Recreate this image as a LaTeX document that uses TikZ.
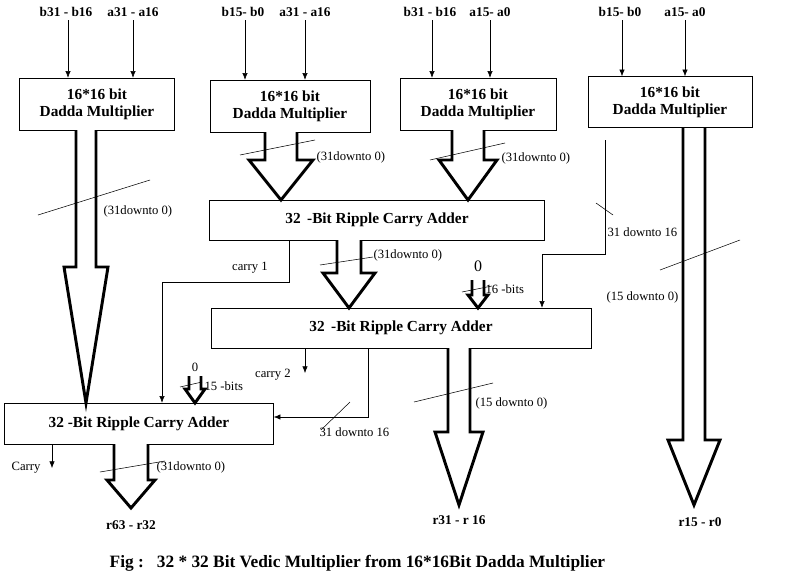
\documentclass[tikz,border=0pt]{standalone}
\usepackage{fontspec}
\setmainfont{Liberation Serif}
\usetikzlibrary{arrows.meta}
\tikzset{
  box/.style={rectangle, draw, thin, inner sep=0pt, font=\bfseries\fontsize{11.5}{13}\selectfont, align=center},
  lbl/.style={font=\fontsize{9.5}{11}\selectfont, inner sep=1pt},
  bus/.style={draw, line width=2.2pt, fill=white, line join=miter},
  wire/.style={thin, -{Latex[length=5pt,width=4pt]}},
  slash/.style={thin}
}
% hollow block arrow: x, top, head start, tip, shaft half, head half
\newcommand{\busarrow}[6]{%
  \draw[bus] (#1-#5,#2) -- (#1-#5,#3) -- (#1-#6,#3) -- (#1,#4) -- (#1+#6,#3) -- (#1+#5,#3) -- (#1+#5,#2);}
\begin{document}
\begin{tikzpicture}[x=0.75pt,y=-0.75pt]
  \useasboundingbox (0,0) rectangle (795,586);

  % multipliers
  \node[box, minimum width=155*0.75pt, minimum height=52*0.75pt] (m1) at (97,104)  {16*16 bit\\Dadda Multiplier};
  \node[box, minimum width=160*0.75pt, minimum height=52*0.75pt] (m2) at (290,106) {16*16 bit\\Dadda Multiplier};
  \node[box, minimum width=156*0.75pt, minimum height=52*0.75pt] (m3) at (478,104) {16*16 bit\\Dadda Multiplier};
  \node[box, minimum width=164*0.75pt, minimum height=51*0.75pt] (m4) at (670,102) {16*16 bit\\Dadda Multiplier};

  % adders
  \node[box, minimum width=335*0.75pt, minimum height=40*0.75pt] (add1) at (377,220) {32 \,-Bit Ripple Carry Adder};
  \node[box, minimum width=380*0.75pt, minimum height=40*0.75pt] (add2) at (401,328) {32 \,-Bit Ripple Carry Adder};
  \node[box, minimum width=269*0.75pt, minimum height=41*0.75pt] (add3) at (139,423.5) {32 -Bit Ripple Carry Adder};

  % inputs
  \foreach \m/\xa/\xb/\la/\lb in {m1/68/133/b31 - b16/a31 - a16, m2/245/305/b15- b0/a31 - a16,
                                  m3/432/490/b31 - b16/a15- a0, m4/622/685/b15- b0/a15- a0}{
    \node[lbl, font=\bfseries\fontsize{10}{11}\selectfont] (in\m a) at (\xa-2,12) {\la};
    \node[lbl, font=\bfseries\fontsize{10}{11}\selectfont] (in\m b) at (\xb,12) {\lb};
    \draw[wire] (\xa,20) -- (\m.north -| {(\xa,0)});
    \draw[wire] (\xb,20) -- (\m.north -| {(\xb,0)});
  }

  % wide buses
  \busarrow{86}{130}{267}{403}{10}{22}
  \busarrow{281}{132}{160}{200}{16}{32}
  \busarrow{468}{130}{160}{200}{16}{29}
  \busarrow{349}{240}{273}{308}{12}{26}
  \busarrow{459}{348}{432}{505}{11}{24}
  \busarrow{694}{128}{440}{505}{11}{26}
  \busarrow{131}{444}{480}{508}{17}{24}
  \busarrow{478}{280}{295}{308}{6}{10}
  \busarrow{195}{376}{389}{403}{6}{10}

  % bus widths
  \draw[slash] (38,215) -- (150,180);  \node[lbl, anchor=west] (w1) at (102,211) {(31downto 0)};
  \draw[slash] (240,155) -- (315,140); \node[lbl, anchor=west] (w2) at (315,157) {(31downto 0)};
  \draw[slash] (430,160) -- (505,143); \node[lbl, anchor=west] (w3) at (500,158) {(31downto 0)};
  \draw[slash] (320,265) -- (373,257); \node[lbl, anchor=west] (w4) at (372,255) {(31downto 0)};
  \draw[slash] (414,402) -- (493,383); \node[lbl, anchor=west] (w5) at (474,403) {(15 downto 0)};
  \draw[slash] (660,270) -- (740,240); \node[lbl, anchor=west] (w6) at (605,297) {(15 downto 0)};
  \draw[slash] (100,472) -- (165,461); \node[lbl, anchor=west] (w7) at (155,467) {(31downto 0)};
  \draw[slash] (462,292) -- (492,286); \node[lbl] (z1) at (478,266) {\fontsize{12}{13}\selectfont 0};
  \node[lbl, anchor=west] (b16) at (484,289) {16 -bits};
  \draw[slash] (180,387) -- (202,382); \node[lbl] (z2) at (195,367) {0};
  \node[lbl, anchor=west] (b15) at (203,386) {15 -bits};

  % carries and upper halves
  \coordinate (c1) at (289,282);
  \draw[wire] (add1.south -| c1) -- (c1) -- (162,282) -- (add3.north -| {(162,0)});
  \node[lbl] (lc1) at (250,268) {carry 1};
  \coordinate (h1) at (605,254);
  \draw[wire] (605,140) -- (h1) -- (542,254) -- (add2.north -| {(542,0)});
  \draw[slash] (596,203) -- (613,215);
  \node[lbl, anchor=west] (lh1) at (606,232) {31 downto 16};
  \draw[wire] (add2.south -| {(305,0)}) -- (305,373);
  \node[lbl] (lc2) at (273,375) {carry 2};
  \coordinate (h2) at (368,417);
  \draw[wire] (add2.south -| h2) -- (h2) -- (add3.east |- h2);
  \draw[slash] (321,430) -- (350,402);
  \node[lbl, anchor=west] (lh2) at (318,432) {31 downto 16};
  \draw[wire] (add3.south -| {(52,0)}) -- (52,468);
  \node[lbl] (lc3) at (26,468) {Carry};

  % outputs
  \node[lbl, font=\bfseries\fontsize{10}{11}\selectfont] (r1) at (131,525) {r63 - r32};
  \node[lbl, font=\bfseries\fontsize{10}{11}\selectfont] (r2) at (459,520) {r31 - r 16};
  \node[lbl, font=\bfseries\fontsize{10}{11}\selectfont] (r3) at (700,522) {r15 - r0};

  \node[font=\bfseries\fontsize{13}{15}\selectfont, anchor=west] (cap) at (105,563) {Fig :\ \ \ 32 * 32 Bit Vedic Multiplier from 16*16Bit Dadda Multiplier};
\end{tikzpicture}
\end{document}
